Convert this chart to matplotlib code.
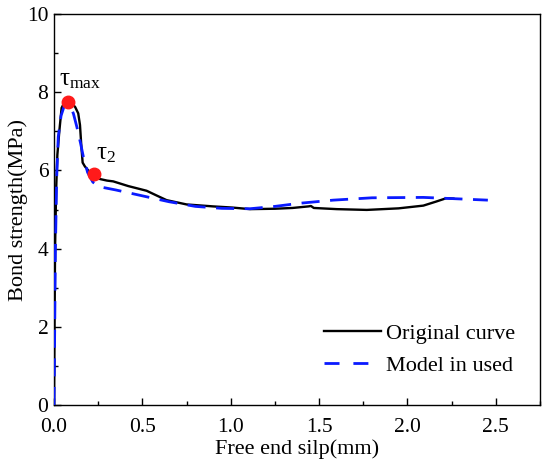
import matplotlib
matplotlib.use("Agg")
import matplotlib.pyplot as plt
from matplotlib.ticker import MultipleLocator
from matplotlib.lines import Line2D

plt.rcParams['font.family'] = ['Liberation Serif', 'DejaVu Serif']
plt.rcParams['mathtext.fontset'] = 'custom'
plt.rcParams['mathtext.rm'] = 'Liberation Serif'
plt.rcParams['mathtext.it'] = 'Liberation Serif'

# Original curve
x_orig = [0.0, 0.003, 0.006, 0.012, 0.019, 0.03, 0.043, 0.06, 0.08, 0.1, 0.12, 0.137, 0.147,
          0.155, 0.162, 0.175, 0.194, 0.228, 0.26, 0.3, 0.335, 0.42, 0.524, 0.58, 0.637, 0.75,
          0.9, 1.01, 1.109, 1.25, 1.35, 1.44, 1.454, 1.47, 1.6, 1.77, 1.95, 2.09, 2.16, 2.22, 2.26]
y_orig = [0.0, 2.0, 4.0, 5.5, 6.4, 7.0, 7.6, 7.75, 7.75, 7.72, 7.62, 7.46, 7.16,
          6.6, 6.2, 6.1, 6.0, 5.88, 5.78, 5.74, 5.72, 5.6, 5.48, 5.36, 5.24, 5.13,
          5.08, 5.05, 5.01, 5.02, 5.04, 5.08, 5.09, 5.04, 5.01, 4.99, 5.03, 5.10, 5.2, 5.29, 5.28]

# Model in used
x_model = [0.0, 0.004, 0.008, 0.015, 0.024, 0.04, 0.06, 0.075, 0.09, 0.11, 0.13, 0.15, 0.166,
           0.19, 0.22, 0.26, 0.35, 0.45, 0.55, 0.65, 0.8, 0.95, 1.109, 1.25, 1.39, 1.58, 1.8,
           2.09, 2.25, 2.455]
y_model = [0.0, 2.0, 4.0, 5.8, 6.86, 7.4, 7.68, 7.72, 7.68, 7.45, 7.1, 6.7, 6.35,
           5.95, 5.7, 5.58, 5.5, 5.4, 5.3, 5.2, 5.08, 5.03, 5.02, 5.08, 5.16, 5.24, 5.3,
           5.31, 5.28, 5.24]

# Key points
key_x = [0.081, 0.228]
key_y = [7.74, 5.90]
key_labels = [r'$\tau_{\mathrm{max}}$', r'$\tau_{2}$']
label_x = [0.030, 0.240]
label_y = [8.18, 6.27]

series_labels = ['Original curve', 'Model in used']

fig = plt.figure(figsize=(5.5, 4.68), dpi=100)
ax = fig.add_axes([0.0982, 0.1346, 0.8836, 0.8354])

blue = '#0a1aff'
ax.plot(x_orig, y_orig, color='black', lw=1.7, zorder=3)
ax.plot(x_model, y_model, color=blue, lw=2.0, ls=(0, (6.5, 3.8)), zorder=4)
ax.plot(key_x, key_y, 'o', color='#ff1a1a', ms=9, zorder=5)
for lx, ly, t in zip(label_x, label_y, key_labels):
    ax.text(lx, ly, t, fontsize=18, ha='left', va='baseline')

ax.set_xlim(0, 2.75)
ax.set_ylim(0, 10)
ax.xaxis.set_major_locator(MultipleLocator(0.5))
ax.xaxis.set_minor_locator(MultipleLocator(0.25))
ax.yaxis.set_major_locator(MultipleLocator(2))
ax.yaxis.set_minor_locator(MultipleLocator(1))
ax.tick_params(which='both', direction='in', labelsize=15.5, top=False, right=False)
ax.tick_params(which='major', length=5, width=1)
ax.tick_params(which='minor', length=3, width=1)
ax.tick_params(axis='x', pad=9)
ax.tick_params(axis='y', pad=4)
ax.set_xticklabels([f'{v:.1f}' for v in ax.get_xticks()])
ax.set_xlabel('Free end silp(mm)', fontsize=16, labelpad=2)
ax.set_ylabel('Bond strength(MPa)', fontsize=16, labelpad=-1)
for s in ax.spines.values():
    s.set_linewidth(1.0)

handles = [Line2D([], [], color='black', lw=1.7),
           Line2D([], [], color=blue, lw=2.0, ls=(0, (5.4, 5.0)))]
ax.legend(handles, series_labels, loc='lower right', bbox_to_anchor=(0.99, 0.023),
          frameon=False, fontsize=16, handlelength=2.56, handletextpad=0.23, labelspacing=0.52)

fig.savefig('out.png', dpi=100)
